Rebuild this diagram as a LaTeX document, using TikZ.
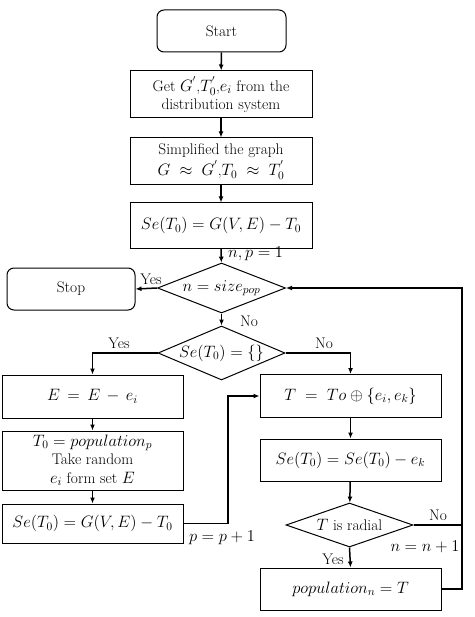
\RequirePackage{fix-cm}
\documentclass[tikz,border=0pt]{standalone}
\DeclareMathSizes{15.4}{16.5}{11.5}{9}
\usetikzlibrary{shapes.geometric,arrows.meta}
\newcommand{\bigtext}{\fontsize{15.4}{18.5}\selectfont}
\begin{document}
\begin{tikzpicture}[x=1pt,y=-1pt,
 box/.style={draw,line width=1pt,rectangle,align=center,font=\bigtext,inner sep=2pt},
 rbox/.style={box,rounded corners=7pt},
 dia/.style={draw,line width=1pt,diamond,aspect=2.5,inner sep=0pt,font=\bigtext},
 arr/.style={line width=1.5pt,-{Latex[length=6pt,width=5pt]}},
 ln/.style={line width=1.5pt},
 lbl/.style={font=\bigtext,inner sep=1pt}]
\useasboundingbox (0,0) rectangle (474,617);
\node[rbox,minimum width=129pt,minimum height=42pt] (start) at (221.5,31) {Start};
\node[box,minimum width=182pt,minimum height=47pt] (get) at (221,94.5) {Get $G^{'}$,$T_0^{'}$,$e_i$ from the\\distribution system};
\node[box,minimum width=182pt,minimum height=47pt] (simp) at (221,161.5) {Simplified the graph\\[3pt]$G\;\approx\;G^{'}$,$T_0\;\approx\;T_0^{'}$};
\node[box,minimum width=182pt,minimum height=45pt] (se0) at (221,225.5) {$Se(T_0)=G(V,E)-T_0$};
\node[dia,minimum width=128pt,minimum height=50pt] (d1) at (221.5,288) {$n=size_{pop}$};
\node[rbox,minimum width=128pt,minimum height=42pt] (stop) at (71,289) {Stop};
\node[dia,minimum width=127pt,minimum height=54pt] (d2) at (221.5,353) {$Se(T_0)=\{\}$};
\node[box,minimum width=181pt,minimum height=43pt] (E) at (92.5,396.5) {$E\,=\,E\,-\,e_i$};
\node[box,minimum width=181pt,minimum height=59pt] (T0) at (92.5,460.5) {$T_0=population_p$\\Take random\\$e_i$ form set $E$};
\node[box,minimum width=181pt,minimum height=39pt] (seL) at (92.5,523.5) {$Se(T_0)=G(V,E)-T_0$};
\node[box,minimum width=181pt,minimum height=43pt] (T) at (350.5,396) {$T\;=\;To\oplus\{e_i,e_k\}$};
\node[box,minimum width=181pt,minimum height=42pt] (seek) at (350.5,460) {$Se(T_0)=Se(T_0)-e_k$};
\node[dia,minimum width=127pt,minimum height=44pt] (d3) at (349.5,525) {$T$ is radial};
\node[box,minimum width=181pt,minimum height=42pt] (pop) at (350.5,589) {$population_n=T$};
\coordinate (bend) at (228,396);
\coordinate (rtop) at (462,288);
\coordinate (rmid) at (462,525);
\draw[arr] (start) -- (get);
\draw[arr] (get) -- (simp);
\draw[arr] (simp) -- (se0);
\draw[arr] (se0) -- (d1);
\node[lbl,anchor=west] (lnp) at (227,254) {$n,p=1$};
\draw[arr] (d1.west) -- (stop.east);
\node[lbl] (ly1) at (151,279) {Yes};
\draw[arr] (d1.south) -- (d2.north);
\node[lbl] (ln1) at (249,321) {No};
\draw[arr] (d2.west) -| (E.north);
\node[lbl] (ly2) at (119,343) {Yes};
\draw[arr] (d2.east) -| (T.north);
\node[lbl] (ln2) at (324,343) {No};
\draw[arr] (E) -- (T0);
\draw[arr] (T0) -- (seL);
\draw[arr] (seL.east) -| (bend) -- (T.west);
\node[lbl] (lpp) at (222,538) {$p=p+1$};
\draw[arr] (T) -- (seek);
\draw[arr] (seek) -- (d3);
\draw[arr] (d3.south) -- (pop.north);
\node[lbl] (ly3) at (333,559) {Yes};
\draw[ln] (d3.east) -- (rmid);
\node[lbl] (ln3) at (438,515) {No};
\node[lbl] (lnn) at (425,547) {$n=n+1$};
\draw[arr] (pop.east) -| (rmid) -- (rtop) -- (d1.east);
\end{tikzpicture}
\end{document}
